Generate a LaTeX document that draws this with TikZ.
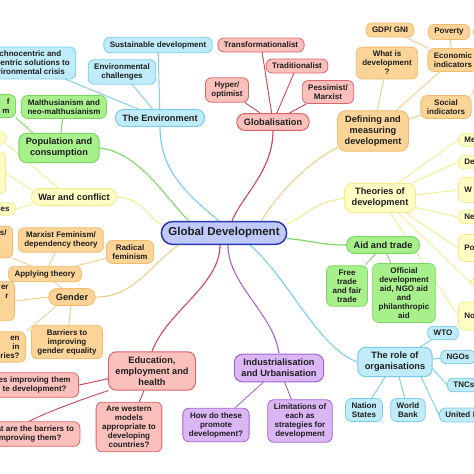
\documentclass[tikz,border=0pt]{standalone}
\usepackage{fontspec}
\setmainfont{Liberation Sans}
\usetikzlibrary{backgrounds}
\definecolor{ink}{RGB}{30,30,30}
\definecolor{cyanfill}{RGB}{192,236,250}
\definecolor{cyanedge}{RGB}{120,205,232}
\definecolor{redfill}{RGB}{250,192,188}
\definecolor{rededge}{RGB}{222,100,108}
\definecolor{redline}{RGB}{205,70,85}
\definecolor{orangefill}{RGB}{252,212,152}
\definecolor{orangeedge}{RGB}{240,188,112}
\definecolor{orangeline}{RGB}{240,205,140}
\definecolor{yellowfill}{RGB}{255,253,198}
\definecolor{yellowedge}{RGB}{242,236,140}
\definecolor{greenfill}{RGB}{168,240,140}
\definecolor{greenedge}{RGB}{122,214,96}
\definecolor{purplefill}{RGB}{218,182,245}
\definecolor{purpleedge}{RGB}{165,100,205}
\definecolor{hubfill}{RGB}{192,202,250}
\definecolor{hubedge}{RGB}{45,55,175}

\begin{document}
\begin{tikzpicture}[x=1pt,y=-1pt,
    leaf/.style={draw,rounded corners=6pt,line width=0.8pt,align=center,
      inner xsep=6pt,inner ysep=4pt,text=ink,font=\fontsize{8}{9}\selectfont\bfseries},
    topic/.style={leaf,rounded corners=8pt,line width=1pt,inner xsep=7pt,inner ysep=5pt,
      font=\fontsize{9.2}{10.8}\selectfont\bfseries},
    cyanbox/.style={fill=cyanfill,draw=cyanedge},
    redbox/.style={fill=redfill,draw=rededge},
    orangebox/.style={fill=orangefill,draw=orangeedge},
    yellowbox/.style={fill=yellowfill,draw=yellowedge},
    greenbox/.style={fill=greenfill,draw=greenedge},
    purplebox/.style={fill=purplefill,draw=purpleedge},
    cutleft/.style={anchor=east,text width=#1,align=right},
    cutright/.style={anchor=west,text width=#1,align=left},
    link/.style={line width=1.1pt,densely dotted,line cap=round},
    branch/.style={link,line width=1.3pt}]
    \useasboundingbox (0,0) rectangle (474,474);
    \clip (0,0) rectangle (474,474);

    % centre
    \node[draw=hubedge,fill=hubfill,line width=1.5pt,rounded corners=11pt,inner xsep=7pt,inner ysep=6pt,
      text=ink,font=\fontsize{11.5}{13}\selectfont\bfseries] (gd) at (224,233) {Global Development};

    % the environment
    \node[topic,cyanbox] (env) at (160,118) {The Environment};
    \node[leaf,cyanbox] (sust) at (158,45) {Sustainable development};
    \node[leaf,cyanbox] (envch) at (122,72) {Environmental\\challenges};
    \node[leaf,cyanbox] (techno) at (26,63) {Technocentric and\\ecocentric solutions to\\environmental crisis};

    % globalisation
    \node[topic,redbox] (glob) at (273,122) {Globalisation};
    \node[leaf,redbox] (trans) at (261,45) {Transformationalist};
    \node[leaf,redbox] (trad) at (297,66) {Traditionalist};
    \node[leaf,redbox] (hyper) at (227,90) {Hyper/\\optimist};
    \node[leaf,redbox] (pess) at (328,92) {Pessimist/\\Marxist};

    % defining and measuring
    \node[topic,orangebox] (defm) at (373,131) {Defining and\\measuring\\development};
    \node[leaf,orangebox] (whatis) at (387,63) {What is\\development\\?};
    \node[leaf,orangebox] (gdp) at (390,30) {GDP/ GNI};
    \node[leaf,orangebox] (econ) at (453,60) {Economic\\indicators};
    \node[leaf,orangebox] (pov) at (449,32) {Poverty};
    \node[leaf,orangebox,cutright=30pt] (econx) at (473,32) {~};
    \node[leaf,orangebox] (social) at (446,107) {Social\\indicators};
    \coordinate (socx) at (482,68);

    % theories
    \node[topic,yellowbox] (theo) at (380,198) {Theories of\\development};
    \node[leaf,yellowbox,cutright=40pt] (th1) at (458,140) {Me};
    \node[leaf,yellowbox,cutright=40pt] (th2) at (458,162) {De-};
    \node[leaf,yellowbox,cutright=40pt,minimum height=25pt] (th3) at (458,190) {W};
    \node[leaf,yellowbox,cutright=40pt] (th4) at (458,217) {Ne};
    \node[leaf,yellowbox,cutright=40pt,minimum height=27pt] (th5) at (458,248) {Pos};
    \node[leaf,yellowbox,cutright=40pt] (th6) at (470,282) {~};
    \node[leaf,yellowbox,cutright=40pt,minimum height=28pt] (th7) at (458,316) {No};

    % aid and trade
    \node[topic,greenbox] (aid) at (383,245) {Aid and trade};
    \node[leaf,greenbox] (free) at (347,286) {Free\\trade\\and fair\\trade};
    \node[leaf,greenbox] (oda) at (404,293) {Official\\development\\aid, NGO aid\\and\\philanthropic\\aid};

    % organisations
    \node[topic,cyanbox] (org) at (395,362) {The role of\\organisations};
    \node[leaf,cyanbox] (wto) at (443,333) {WTO};
    \node[leaf,cyanbox] (ngo) at (458,357) {NGOs};
    \node[leaf,cyanbox,cutright=40pt] (tnc) at (447,385) {TNCs};
    \node[leaf,cyanbox,cutright=60pt] (un) at (439,415) {United Nations};
    \node[leaf,cyanbox] (nation) at (364,410) {Nation\\States};
    \node[leaf,cyanbox] (wb) at (408,410) {World\\Bank};

    % industrialisation
    \node[topic,purplebox] (ind) at (279,368) {Industrialisation\\and Urbanisation};
    \node[leaf,purplebox] (how) at (216,425) {How do these\\promote\\development?};
    \node[leaf,purplebox] (lim) at (300,421) {Limitations of\\each as\\strategies for\\development};

    % education
    \node[topic,redbox] (edu) at (152,371) {Education,\\employment and\\health};
    \node[leaf,redbox,cutleft=76pt,align=center] (edu1) at (79,385) {es improving them\\te development?};
    \node[leaf,redbox] (edu2) at (29,434) {What are the barriers to\\improving them?};
    \node[leaf,redbox] (edu3) at (129,427) {Are western\\models\\appropriate to\\developing\\countries?};

    % gender
    \node[topic,orangebox] (gender) at (72,297) {Gender};
    \node[leaf,orangebox] (apply) at (45,274) {Applying theory};
    \node[leaf,orangebox] (marx) at (61,240) {Marxist Feminism/\\dependency theory};
    \node[leaf,orangebox] (radical) at (130,252) {Radical\\feminism};
    \node[leaf,orangebox,cutleft=30pt] (gen1) at (13,242) {s/\\~\\~};
    \node[leaf,orangebox,cutleft=30pt] (gen2) at (15,301) {er\\r\\~\\~};
    \node[leaf,orangebox,cutleft=30pt] (gen3) at (26,347) {en\\in\\ries?};
    \node[leaf,orangebox] (barr) at (67,342) {Barriers to\\improving\\gender equality};

    % population and war
    \node[topic,greenbox] (pop) at (59,148) {Population and\\consumption};
    \node[leaf,greenbox] (malth) at (64,107) {Malthusianism and\\neo-malthusianism};
    \node[leaf,greenbox,cutleft=30pt] (popx) at (16,106) {f\\m};
    \node[topic,yellowbox] (war) at (74,197) {War and conflict};
    \node[leaf,yellowbox,cutleft=20pt] (warc) at (7,138) {c};
    \node[leaf,yellowbox,cutleft=20pt,minimum height=42pt] (wartall) at (6,173) {~};
    \node[leaf,yellowbox,cutleft=30pt] (warses) at (16,209) {ses};

    \begin{scope}[on background layer]
    \fill[white] (0,0) rectangle (474,474);
    % main branches
    \draw[branch,cyanedge] (env.south) .. controls +(0,45) and +(-30,-25) .. ([xshift=-5pt]gd.north);
    \draw[branch,redline] (glob.south) .. controls +(0,40) and +(10,-25) .. ([xshift=8pt]gd.north);
    \draw[branch,orangeline] (defm.205) .. controls +(-30,15) and +(15,-25) .. (gd.18);
    \draw[branch,yellowedge] (theo.west) .. controls +(-30,5) and +(20,-10) .. (gd.8);
    \draw[branch,greenedge] (gd.-5) .. controls +(30,3) and +(-25,0) .. (aid.west);
    \draw[branch,cyanedge] (gd.-25) .. controls +(40,35) and +(-40,-15) .. (org.west);
    \draw[branch,purpleedge] ([xshift=4pt]gd.south) .. controls +(0,40) and +(-5,-40) .. (ind.north);
    \draw[branch,redline] ([xshift=-4pt]gd.south) .. controls +(0,40) and +(15,-40) .. (edu.north);
    \draw[branch,orangeline] (gender.east) .. controls +(40,0) and +(-30,20) .. (gd.195);
    \draw[branch,yellowedge] (war.east) .. controls +(25,2) and +(-15,-10) .. (gd.172);
    \draw[branch,greenedge] (pop.east) .. controls +(40,5) and +(-25,-25) .. (gd.161);

    % leaves
    \draw[link,cyanedge] (sust) -- (env);
    \draw[link,cyanedge] (envch) -- (env);
    \draw[link,cyanedge] (techno) -- (env);
    \draw[link,redline] (trans) -- (glob);
    \draw[link,redline] (trad) -- (glob);
    \draw[link,redline] (hyper) -- (glob);
    \draw[link,redline] (pess) -- (glob);
    \draw[link,orangeline] (whatis) -- (defm);
    \draw[link,orangeline] (econ) -- (defm);
    \draw[link,orangeline] (social) -- (defm);
    \draw[link,orangeline] (gdp) -- (econ);
    \draw[link,orangeline] (pov) -- (econ);
    \draw[link,orangeline] (social.north east) -- (socx);
    \draw[link,yellowedge] (theo.40) -- (th1.west);
    \draw[link,yellowedge] (theo.25) -- (th2.west);
    \draw[link,yellowedge] (theo.5) -- (th3.west);
    \draw[link,yellowedge] (theo.-15) -- (th4.west);
    \draw[link,yellowedge] (theo.-30) -- (th5.west);
    \draw[link,yellowedge] (theo.-40) -- (th6.west);
    \draw[link,yellowedge] (theo.-55) -- (th7.west);
    \draw[link,greenedge] (aid) -- (free);
    \draw[link,greenedge] (aid) -- (oda);
    \draw[link,cyanedge] (org) -- (wto);
    \draw[link,cyanedge] (org) -- (ngo);
    \draw[link,cyanedge] (org.-10) -- (tnc.west);
    \draw[link,cyanedge] (org.-30) -- (un.west);
    \draw[link,cyanedge] (org) -- (nation);
    \draw[link,cyanedge] (org) -- (wb);
    \draw[link,purpleedge] (ind) -- (how);
    \draw[link,purpleedge] (ind) -- (lim);
    \draw[link,redline] (edu.190) -- (edu1.east);
    \draw[link,redline] (edu.south west) .. controls +(-30,10) and +(20,-10) .. (edu2.north);
    \draw[link,redline] (edu) -- (edu3);
    \draw[link,orangeline] (gender) -- (apply);
    \draw[link,orangeline] (apply) -- (marx);
    \draw[link,orangeline] (apply) -- (radical);
    \draw[link,orangeline] (apply.150) -- (gen1.south east);
    \draw[link,orangeline] (gender.west) -- (gen2.east);
    \draw[link,orangeline] (gender.210) -- (gen3.north east);
    \draw[link,orangeline] (gender) -- (barr);
    \draw[link,greenedge] (malth) -- (pop);
    \draw[link,greenedge] (popx.south east) -- (pop.150);
    \draw[link,yellowedge] (warc.south east) -- (war.150);
    \draw[link,yellowedge] (wartall.east) -- (war.170);
    \draw[link,yellowedge] (warses.east) -- (war.190);
    \end{scope}
\end{tikzpicture}
\end{document}
